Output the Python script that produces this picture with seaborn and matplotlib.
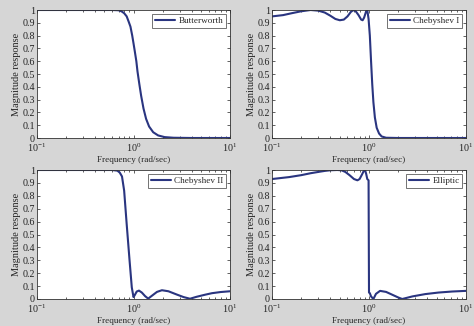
import numpy as np
import pandas as pd
import matplotlib
matplotlib.use("Agg")
import matplotlib.pyplot as plt
import seaborn as sns

# magnitude responses (frequency in rad/sec)
butter_w = [0.1, 0.3, 0.6, 0.7, 0.75, 0.8, 0.85, 0.89, 0.93, 0.97, 1.0, 1.03,
            1.07, 1.1, 1.15, 1.2, 1.27, 1.35, 1.45, 1.6, 1.8, 2.1, 2.6, 4, 10]
butter_m = [1, 1, 1, 0.998, 0.99, 0.975, 0.95, 0.91, 0.87, 0.8, 0.74, 0.68,
            0.6, 0.52, 0.42, 0.33, 0.23, 0.15, 0.09, 0.045, 0.02, 0.007, 0.002, 0, 0]

cheb1_w = [0.1, 0.13, 0.16, 0.2, 0.25, 0.3, 0.35, 0.4, 0.45, 0.5, 0.55, 0.6,
           0.65, 0.69, 0.73, 0.78, 0.83, 0.86, 0.89, 0.93, 0.96, 0.99, 1.02,
           1.05, 1.08, 1.11, 1.15, 1.2, 1.27, 1.35, 1.5, 2, 10]
cheb1_m = [0.95, 0.96, 0.975, 0.99, 1.0, 0.995, 0.98, 0.955, 0.93, 0.92, 0.925, 0.95,
           0.985, 1.0, 0.99, 0.96, 0.925, 0.92, 0.94, 0.985, 1.0, 0.93, 0.8,
           0.6, 0.42, 0.28, 0.16, 0.08, 0.035, 0.012, 0.002, 0, 0]

cheb2_w = [0.1, 0.3, 0.6, 0.68, 0.72, 0.76, 0.8, 0.85, 0.91, 0.96, 1.0, 1.03,
           1.08, 1.14, 1.22, 1.32, 1.42, 1.55, 1.75, 1.97, 2.3, 2.8, 3.3, 3.85,
           4.5, 5.5, 6.5, 8, 10]
cheb2_m = [1, 1, 1, 0.995, 0.98, 0.95, 0.84, 0.58, 0.3, 0.09, 0.015, 0.03,
           0.058, 0.065, 0.05, 0.022, 0.003, 0.025, 0.055, 0.068, 0.06, 0.035, 0.015, 0.002,
           0.017, 0.033, 0.045, 0.054, 0.06]

ellip_w = [0.1, 0.15, 0.2, 0.25, 0.3, 0.35, 0.4, 0.47, 0.52, 0.57, 0.63, 0.7,
           0.76, 0.8, 0.84, 0.88, 0.91, 0.935, 0.96, 0.99, 1.0, 1.02, 1.05,
           1.11, 1.18, 1.3, 1.5, 1.75, 2.0, 2.2, 2.8, 3.8, 5.2, 7.2, 10]
ellip_m = [0.93, 0.945, 0.96, 0.975, 0.985, 0.993, 0.998, 1.0, 0.998, 0.985, 0.96, 0.93,
           0.92, 0.93, 0.96, 0.99, 1.0, 0.97, 0.93, 0.92, 0.05, 0.045, 0.02,
           0.0, 0.04, 0.063, 0.055, 0.032, 0.012, 0.0, 0.02, 0.038, 0.05, 0.058, 0.063]

names = ["Butterworth", "Chebyshev I", "Chebyshev II", "Elliptic"]
curves = [(butter_w, butter_m), (cheb1_w, cheb1_m), (cheb2_w, cheb2_m), (ellip_w, ellip_m)]

sns.set_theme(style="ticks")
plt.rcParams["font.family"] = ["Liberation Serif", "DejaVu Serif"]
plt.rcParams["mathtext.fontset"] = "custom"
plt.rcParams["mathtext.rm"] = "Liberation Serif"
plt.rcParams["xtick.direction"] = "in"
plt.rcParams["ytick.direction"] = "in"

bg = "#d6d6d6"
fig = plt.figure(figsize=(4.74, 3.26), dpi=100, facecolor=bg)

# axes boxes in pixels: left, right, top, bottom
boxes = [(37, 230, 10, 138), (272, 466, 10, 138),
         (37, 230, 170, 299), (272, 466, 170, 299)]

for (l, r, t, b), name, (w, m) in zip(boxes, names, curves):
    ax = fig.add_axes([l / 474, 1 - b / 326, (r - l) / 474, (b - t) / 326])
    df = pd.DataFrame({"w": w, "m": m})
    sns.lineplot(data=df, x="w", y="m", ax=ax, color="#2a3580", lw=1.5,
                 label=name, sort=False)
    ax.set_xscale("log")
    ax.set_xlim(0.1, 10)
    ax.set_ylim(0, 1)
    ax.set_yticks(np.arange(0, 1.01, 0.1))
    ax.set_yticklabels(["0", "0.1", "0.2", "0.3", "0.4", "0.5", "0.6", "0.7", "0.8", "0.9", "1"])
    ax.tick_params(which="both", top=True, right=True, labelsize=7.2,
                   length=2.5, width=0.5, colors="#222222")
    ax.tick_params(axis="y", pad=1.5)
    ax.tick_params(axis="x", pad=2.5)
    ax.tick_params(which="minor", length=1.5)
    for s in ax.spines.values():
        s.set_linewidth(0.6)
        s.set_color("#333333")
    ax.set_xlabel("Frequency (rad/sec)", fontsize=6.6, labelpad=1.5)
    ax.set_ylabel("Magnitude response", fontsize=7.4, labelpad=1)
    leg = ax.legend(loc="upper right", fontsize=6.6, frameon=True, fancybox=False,
                    handlelength=2.2, borderpad=0.3, borderaxespad=0.4,
                    handletextpad=0.4)
    leg.get_frame().set_edgecolor("#333333")
    leg.get_frame().set_linewidth(0.6)

fig.savefig("out.png", dpi=100, facecolor=bg)
